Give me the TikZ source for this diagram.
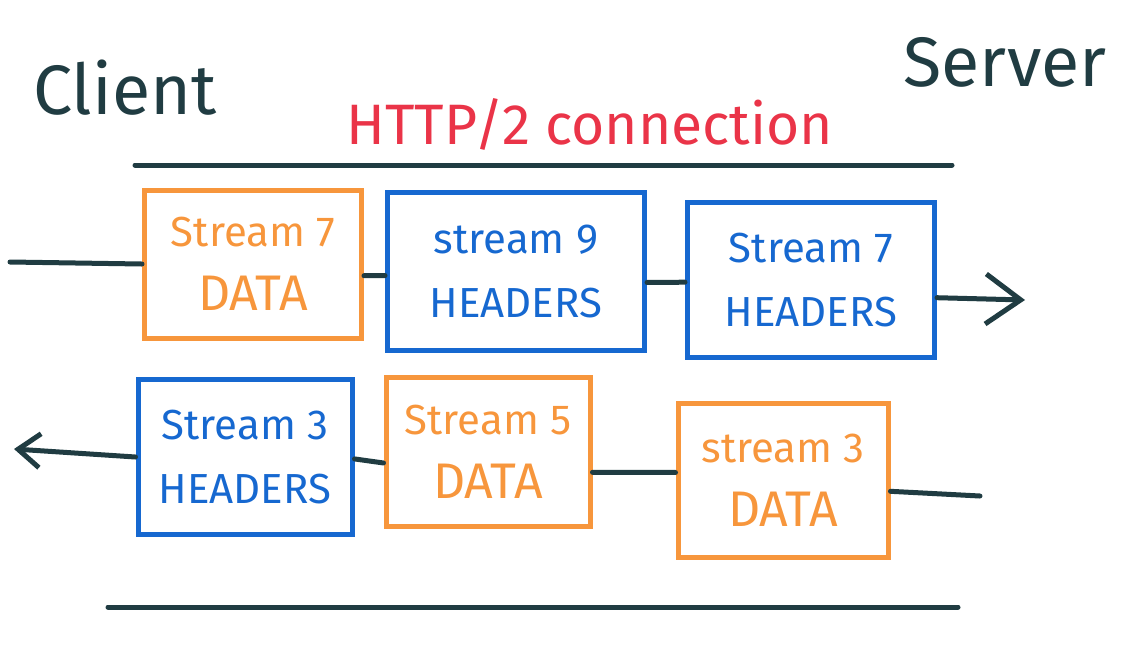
\documentclass[tikz,border=0pt]{standalone}
\usepackage{fontspec}
\setmainfont{Fira Sans}
\usetikzlibrary{positioning, arrows.meta}

\definecolor{penorange}{RGB}{247,150,60}
\definecolor{penblue}{RGB}{22,104,208}
\definecolor{pendark}{RGB}{32,60,66}
\definecolor{penred}{RGB}{234,52,72}

\newcommand{\bigline}[1]{{\fontsize{50}{64}\selectfont #1}}

\begin{document}
\begin{tikzpicture}[
    x=1pt, y=-1pt,
    frame/.style={
        rectangle, draw, line width=5pt,
        align=center, inner sep=0pt,
        font=\fontsize{42}{64}\selectfont
    },
    datafr/.style={frame, draw=penorange, text=penorange},
    headfr/.style={frame, draw=penblue, text=penblue},
    wire/.style={line width=5pt, draw=pendark, line cap=round},
    tipright/.style={-{Straight Barb[length=35pt, width=50pt, line width=5pt]}},
    tipleft/.style={-{Straight Barb[length=22pt, width=34pt, line width=5pt]}}
]
    \useasboundingbox (0,0) rectangle (1124,657);

    % Titles ===========================
    \node[text=pendark, font=\fontsize{70}{74}\selectfont] (client) at (125,88) {Client};
    \node[text=pendark, font=\fontsize{70}{74}\selectfont] (server) at (1005,62) {Server};
    \node[text=penred, font=\fontsize{57}{60}\selectfont] (conn) at (590,124) {HTTP/2 connection};

    % Connection borders ===========================
    \draw[wire] (135,165) -- (952,165);
    \draw[wire] (108,607) -- (958,607);

    % The frames, first row ===========================
    \node[datafr, minimum width=217pt, minimum height=148pt] (sevendata) at (253,264) {Stream 7\\\bigline{DATA}};
    \node[headfr, minimum width=257pt, minimum height=158pt] (ninehead) at (516,271) {stream 9\\HEADERS};
    \node[headfr, minimum width=247pt, minimum height=155pt] (sevenhead) at (811,280) {Stream 7\\HEADERS};

    % The frames, second row ===========================
    \node[headfr, minimum width=214pt, minimum height=155pt] (threehead) at (245,457) {Stream 3\\HEADERS};
    \node[datafr, minimum width=204pt, minimum height=149pt] (fivedata) at (488,452) {Stream 5\\\bigline{DATA}};
    \node[datafr, minimum width=210pt, minimum height=154pt] (threedata) at (783,480) {stream 3\\\bigline{DATA}};

    % Free ends of the wires
    \coordinate (inone) at (10,262);
    \coordinate (outone) at (1025,300);
    \coordinate (outtwo) at (14,449);
    \coordinate (intwo) at (980,496);

    % Wires, client to server ====================
    \draw[wire] (inone) -- (sevendata.west);
    \draw[wire] (sevendata.-6) -- (ninehead.182);
    \draw[wire] (ninehead.-5) -- (sevenhead.181);
    \draw[wire, tipright] (sevenhead.-8) -- (outone);

    % Wires, server to client ====================
    \draw[wire] (intwo) -- (threedata.-6);
    \draw[wire] (threedata.176) -- (fivedata.-11);
    \draw[wire] (fivedata.186) -- (threehead.-1);
    \draw[wire, tipleft] (threehead.west) -- (outtwo);

\end{tikzpicture}
\end{document}
